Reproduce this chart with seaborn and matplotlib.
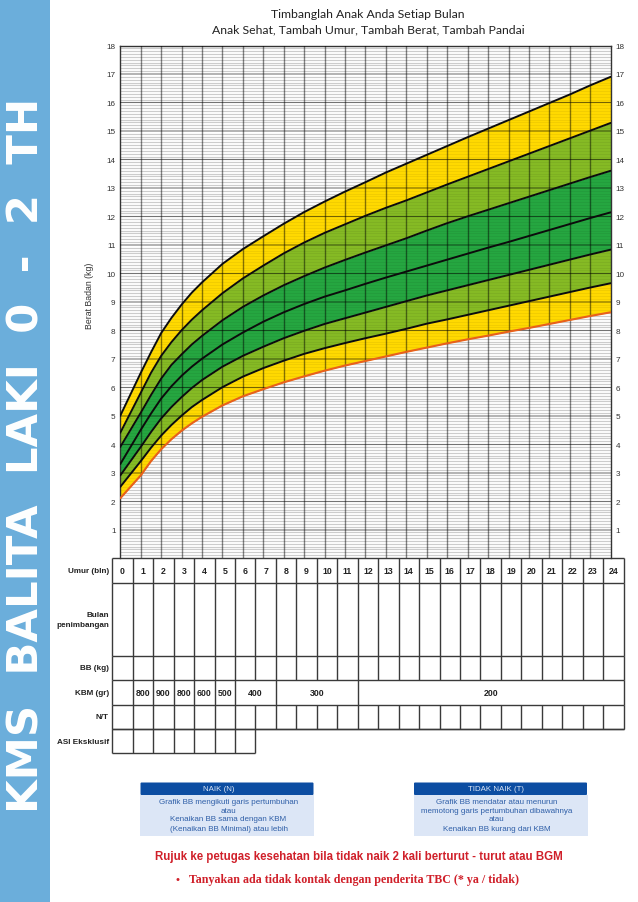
# kartu menuju sehat, berat badan anak laki-laki 0-2 tahun
import matplotlib
matplotlib.use('Agg')
import matplotlib.pyplot as plt
from matplotlib.patches import Rectangle, FancyBboxPatch
import pandas as pd
import seaborn as sns

FIG_W, FIG_H = 638, 903

# data kurva (kg), titik setengah bulan di awal karena kurvanya menekuk
bulan = [0, 1, 1.5, 2, 2.5, 3, 3.5, 4, 5, 6, 7, 8, 9, 10, 11, 12, 13, 14, 15, 16, 17, 18, 19, 20, 21, 22, 23, 24]
sd_plus3 = [5.0, 6.5, 7.22, 7.9, 8.43, 8.9, 9.32, 9.68, 10.33, 10.85, 11.3, 11.74, 12.15, 12.52, 12.87, 13.2, 13.54, 13.85, 14.16, 14.47, 14.78, 15.08, 15.38, 15.68, 15.98, 16.28, 16.6, 16.9]
sd_plus2 = [4.4, 5.8, 6.5, 7.1, 7.58, 8.0, 8.37, 8.7, 9.3, 9.82, 10.27, 10.7, 11.08, 11.42, 11.72, 12.02, 12.3, 12.56, 12.84, 13.12, 13.39, 13.66, 13.93, 14.2, 14.47, 14.74, 15.01, 15.28]
sd_plus1 = [3.9, 5.1, 5.72, 6.3, 6.78, 7.15, 7.5, 7.8, 8.35, 8.82, 9.22, 9.58, 9.9, 10.2, 10.47, 10.73, 10.98, 11.23, 11.5, 11.76, 12.0, 12.23, 12.46, 12.69, 12.92, 13.15, 13.38, 13.6]
sd_median = [3.3, 4.5, 5.07, 5.6, 6.03, 6.4, 6.72, 7.0, 7.5, 7.92, 8.3, 8.63, 8.92, 9.18, 9.4, 9.63, 9.85, 10.06, 10.27, 10.48, 10.69, 10.9, 11.1, 11.31, 11.52, 11.73, 11.94, 12.14]
sd_min1 = [2.9, 3.9, 4.42, 4.9, 5.3, 5.65, 5.97, 6.25, 6.72, 7.1, 7.42, 7.72, 7.98, 8.22, 8.42, 8.62, 8.82, 9.02, 9.22, 9.4, 9.58, 9.76, 9.94, 10.12, 10.3, 10.48, 10.66, 10.83]
sd_min2 = [2.5, 3.4, 3.87, 4.3, 4.67, 5.0, 5.3, 5.55, 6.0, 6.37, 6.67, 6.93, 7.17, 7.37, 7.55, 7.72, 7.88, 8.05, 8.23, 8.38, 8.54, 8.7, 8.86, 9.02, 9.18, 9.34, 9.5, 9.65]
sd_min3 = [2.1, 2.9, 3.4, 3.82, 4.17, 4.47, 4.73, 4.96, 5.36, 5.68, 5.93, 6.17, 6.38, 6.58, 6.76, 6.92, 7.08, 7.24, 7.39, 7.54, 7.68, 7.81, 7.95, 8.08, 8.22, 8.36, 8.5, 8.63]

umur_label = [str(i) for i in range(25)]
label_baris = ['Umur (bln)', 'Bulan\npenimbangan', 'BB (kg)', 'KBM (gr)', 'N/T', 'ASI Eksklusif']
tinggi_baris = [559, 584, 656.7, 681.2, 705.6, 730, 754.3]
kbm_label = ['', '800', '900', '800', '600', '500', '400', '300', '200']
kbm_mulai = [0, 1, 2, 3, 4, 5, 6, 8, 12]
kbm_akhir = [1, 2, 3, 4, 5, 6, 8, 12, 25]
asi_kolom = 7

judul_1 = 'Timbanglah Anak Anda Setiap Bulan'
judul_2 = 'Anak Sehat, Tambah Umur, Tambah Berat, Tambah Pandai'
naik_judul = 'NAIK (N)'
naik_teks = ['Grafik BB mengikuti garis pertumbuhan', 'atau', 'Kenaikan BB sama dengan KBM', '(Kenaikan BB Minimal) atau lebih']
tidak_judul = 'TIDAK NAIK (T)'
tidak_teks = ['Grafik BB mendatar atau menurun', 'memotong garis pertumbuhan dibawahnya', 'atau', 'Kenaikan BB kurang dari KBM']

KUNING = '#FFD900'
HIJAU_MUDA = '#85BA24'
HIJAU_TUA = '#25A640'
LINE_COL = '#3a3a3a'
KOL_X0, KOL_W = 112.3, 20.45

sns.set_style('white')
plt.rcParams['font.family'] = ['Liberation Sans', 'DejaVu Sans']

fig = plt.figure(figsize=(FIG_W / 100, FIG_H / 100), dpi=100)

# kanvas piksel untuk tabel dan teks
bg = fig.add_axes([0, 0, 1, 1])
bg.set_xlim(0, FIG_W)
bg.set_ylim(FIG_H, 0)
bg.axis('off')

# axes grafik: x 120.3-610.7, y 46.5-559
ax = fig.add_axes([120.3 / FIG_W, 1 - 559 / FIG_H, 490.4 / FIG_W, 512.5 / FIG_H])
ax.patch.set_alpha(0)

ax.fill_between(bulan, sd_plus2, sd_plus3, color=KUNING, lw=0, zorder=1)
ax.fill_between(bulan, sd_plus1, sd_plus2, color=HIJAU_MUDA, lw=0, zorder=1)
ax.fill_between(bulan, sd_min1, sd_plus1, color=HIJAU_TUA, lw=0, zorder=1)
ax.fill_between(bulan, sd_min2, sd_min1, color=HIJAU_MUDA, lw=0, zorder=1)
ax.fill_between(bulan, sd_min3, sd_min2, color=KUNING, lw=0, zorder=1)

# grid mm, di bawah warna lebih terang, di atas warna samar
minor = [i / 10 for i in range(181) if i % 10]
ax.hlines(minor, 0, 24, color='#d8d8d8', lw=0.9, zorder=0)
ax.hlines(minor, 0, 24, color='#000000', alpha=0.05, lw=0.7, zorder=2)
for kg in range(1, 18):
    if kg % 2:
        ax.axhline(kg, color='#000000', lw=1.4, alpha=0.3, zorder=3)
    else:
        ax.axhline(kg, color='#000000', lw=0.8, alpha=0.55, zorder=3)
for b in range(1, 24):
    ax.axvline(b, color='#000000', lw=1.0, alpha=0.48, zorder=3)

nama_garis = ['+3', '+2', '+1', '0', '-1', '-2']
df = pd.DataFrame({
    'bulan': bulan * 6,
    'berat': sd_plus3 + sd_plus2 + sd_plus1 + sd_median + sd_min1 + sd_min2,
    'garis': [n for n in nama_garis for _ in bulan],
})
sns.lineplot(data=df, x='bulan', y='berat', units='garis', estimator=None, color='#0c0c0c',
             lw=1.4, ax=ax, zorder=4, legend=False)
sns.lineplot(x=bulan, y=sd_min3, color='#E8601C', lw=1.5, ax=ax, zorder=4, legend=False)

ax.set_xlim(0, 24)
ax.set_ylim(0, 18)
ax.set_xticks([])
ax.set_yticks(range(1, 19))
ax.set_yticklabels([str(i) for i in range(1, 19)], fontsize=5.9, color='#333333')
ax.tick_params(axis='y', length=0, pad=3.5, labelright=True, labelleft=True)
ax.set_xlabel('')
ax.set_ylabel('')
for side in ['left', 'right', 'top']:
    ax.spines[side].set_color('#333333')
    ax.spines[side].set_linewidth(1.0)
ax.spines['bottom'].set_visible(False)

bg.text(90, 296, 'Berat Badan (kg)', rotation=90, ha='center', va='center', fontsize=6.3, color='#333333')

# judul
bg.text(368, 14, judul_1, ha='center', va='center', fontsize=8.8, family='Lato', color='#222222')
bg.text(368, 29.5, judul_2, ha='center', va='center', fontsize=8.8, family='Lato', color='#222222')

# pita samping, spasi dobel supaya panjangnya sama
bg.add_patch(Rectangle((0, 0), 49.5, FIG_H, color='#6BAEDB', lw=0))
bg.text(26.5, 455, 'KMS  BALITA  LAKI  0  -  2  TH', rotation=90, ha='center', va='center', color='white',
        fontsize=31.2, fontweight='bold', family='DejaVu Sans')

# tabel
kolom_x = [KOL_X0 + KOL_W * i for i in range(26)]
for i in range(6):
    y0, y1 = tinggi_baris[i], tinggi_baris[i + 1]
    bg.text(109, (y0 + y1) / 2, label_baris[i], ha='right', va='center', fontsize=5.9,
            fontweight='bold', color='#222222', linespacing=1.7)
    if label_baris[i].startswith('KBM'):
        tepi = kbm_mulai + [25]
    elif label_baris[i].startswith('ASI'):
        tepi = list(range(asi_kolom + 1))
    else:
        tepi = list(range(26))
    bg.vlines([kolom_x[k] for k in tepi], y0, y1, color=LINE_COL, lw=1.0)
    bg.hlines(y0, kolom_x[0], kolom_x[25], color=LINE_COL, lw=1.0)
bg.hlines(tinggi_baris[5], kolom_x[0], kolom_x[25], color=LINE_COL, lw=1.0)
bg.hlines(tinggi_baris[6], kolom_x[0], kolom_x[asi_kolom], color=LINE_COL, lw=1.0)

for i, lab in enumerate(umur_label):
    bg.text(kolom_x[i] + KOL_W / 2, (tinggi_baris[0] + tinggi_baris[1]) / 2, lab, ha='center', va='center',
            fontsize=6.3, fontweight='bold', color='#222222')
for lab, m, a in zip(kbm_label, kbm_mulai, kbm_akhir):
    bg.text((kolom_x[m] + kolom_x[a]) / 2, (tinggi_baris[3] + tinggi_baris[4]) / 2, lab, ha='center', va='center',
            fontsize=6.3, fontweight='bold', color='#222222')


# kotak keterangan
def kotak(x0, judul, x_judul, baris, x_teks, posisi_y):
    bg.add_patch(Rectangle((x0, 796), 174, 41, color='#DCE6F6', lw=0))
    bg.add_patch(FancyBboxPatch((x0 + 1, 784), 172, 11.5, boxstyle='round,pad=0.5,rounding_size=1',
                                color='#0C4DA2', lw=0))
    bg.text(x_judul, 790, judul, ha='center', va='center', fontsize=5.7, color='#DCE6F6')
    for teks, y in zip(baris, posisi_y):
        bg.text(x_teks, y, teks, ha='center', va='center', fontsize=5.75, color='#2F5FA8')


kotak(140, naik_judul, 219, naik_teks, 228.5, [803, 811.5, 820, 830])
kotak(413.5, tidak_judul, 496, tidak_teks, 496.5, [803, 811.5, 820, 830])

bg.text(358.5, 857, 'Rujuk ke petugas kesehatan bila tidak naik 2 kali berturut - turut atau BGM', ha='center', va='center',
        fontsize=8.3, fontweight='bold', color='#D0202A')
bg.text(177, 880, '\u2022', ha='center', va='center', fontsize=8, color='#D0202A')
bg.text(189, 880, 'Tanyakan ada tidak kontak dengan penderita TBC (* ya / tidak)', ha='left', va='center',
        fontsize=8.65, family='Liberation Serif', fontweight='bold', color='#D0202A')

fig.savefig('out.png', dpi=100)
plt.close(fig)
